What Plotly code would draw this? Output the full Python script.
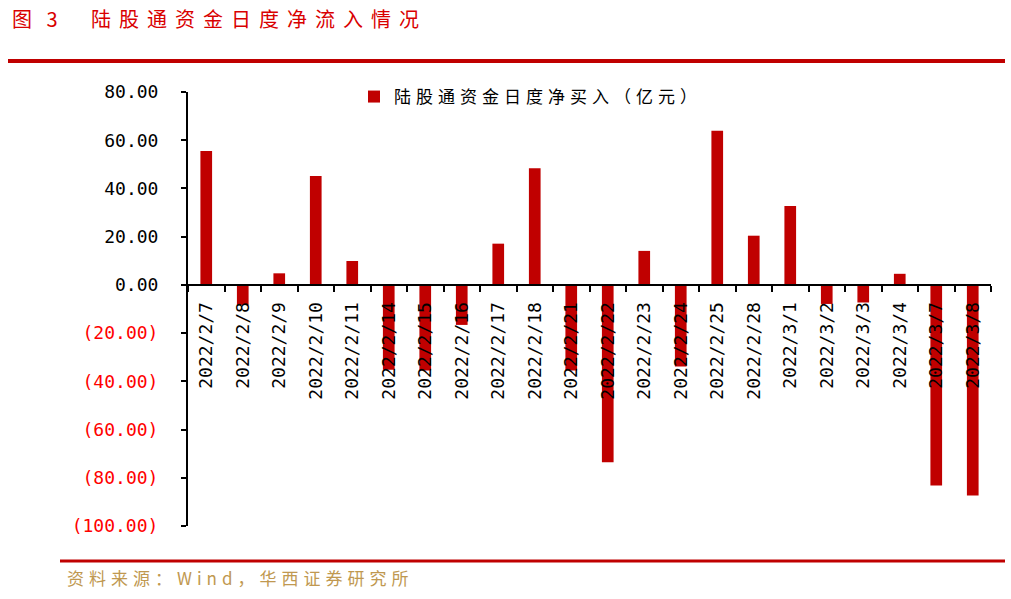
import plotly.graph_objects as go

dates = ["2022/2/7", "2022/2/8", "2022/2/9", "2022/2/10", "2022/2/11", "2022/2/14",
         "2022/2/15", "2022/2/16", "2022/2/17", "2022/2/18", "2022/2/21", "2022/2/22",
         "2022/2/23", "2022/2/24", "2022/2/25", "2022/2/28", "2022/3/1", "2022/3/2",
         "2022/3/3", "2022/3/4", "2022/3/7", "2022/3/8"]
net_buy = [55.5, -8.3, 4.8, 45.2, 9.9, -35.2, -35.5, -16.6, 17.1, 48.4, -35.5, -73.6,
           14.1, -33.8, 63.9, 20.4, 32.7, -7.9, -7.3, 4.6, -83.2, -87.3]

y_tickvals = [80, 60, 40, 20, 0, -20, -40, -60, -80, -100]
y_ticktext = ["80.00", "60.00", "40.00", "20.00", "0.00",
              "<span style='color:#FF0000'>(20.00)</span>",
              "<span style='color:#FF0000'>(40.00)</span>",
              "<span style='color:#FF0000'>(60.00)</span>",
              "<span style='color:#FF0000'>(80.00)</span>",
              "<span style='color:#FF0000'>(100.00)</span>"]

series_name = "陆股通资金日度净买入（亿元）"
title_prefix = "图 3   "
title_main = "陆股通资金日度净流入情况"
source_text = "资料来源：Wind，华西证券研究所"

W, H = 1011, 599
L, R, T, B = 188, 20, 92, 73
pw, ph = W - L - R, H - T - B

def px(x):
    return (x - L) / pw

def py(y):
    return (H - B - y) / ph

def spaced(s, sp):
    return "<span style='letter-spacing:%spx'>%s</span>" % (sp, s)

ymin, ymax = -100, 80

fig = go.Figure()
fig.add_trace(go.Bar(x=dates, y=net_buy, name=spaced(series_name, 5),
                     marker=dict(color="#C00000", line=dict(width=0)),
                     width=0.32, showlegend=True))

fig.update_layout(
    width=W, height=H,
    margin=dict(l=L, r=R, t=T, b=B),
    paper_bgcolor="white", plot_bgcolor="white",
    font=dict(family="Noto Sans CJK SC", color="black"),
    showlegend=True,
    legend=dict(x=px(354), y=py(97), xanchor="left", yanchor="middle",
                orientation="h", bgcolor="rgba(0,0,0,0)",
                font=dict(family="Noto Sans CJK SC", size=17, color="black")),
    xaxis=dict(
        type="category", anchor="free", position=(0 - ymin) / (ymax - ymin),
        showline=True, linecolor="black", linewidth=2,
        ticks="outside", tickson="boundaries", ticklen=6, tickwidth=2, tickcolor="black",
        tickangle=-90, showgrid=False, zeroline=False, ticklabelstandoff=9,
        tickfont=dict(family="DejaVu Sans Mono", size=18, color="black"),
        range=[-0.5, len(dates) - 0.5],
    ),
    yaxis=dict(
        range=[ymin, ymax], tickvals=y_tickvals, ticktext=y_ticktext,
        showline=True, linecolor="black", linewidth=2,
        ticks="outside", ticklen=5, tickwidth=2, tickcolor="black",
        showgrid=False, zeroline=False, ticklabelstandoff=19,
        tickfont=dict(family="DejaVu Sans Mono", size=18, color="black"),
    ),
)

shapes = [
    dict(type="line", xref="paper", yref="paper", x0=px(8), x1=px(1005), y0=py(61), y1=py(61),
         line=dict(color="#C00000", width=4)),
    dict(type="line", xref="paper", yref="paper", x0=px(60), x1=px(1005), y0=py(561), y1=py(561),
         line=dict(color="#C00000", width=3)),
]
fig.update_layout(shapes=shapes)

fig.add_annotation(x=px(10), y=py(19), xref="paper", yref="paper",
                   text=spaced(title_prefix, 5) + spaced(title_main, 8),
                   showarrow=False, xanchor="left", yanchor="middle",
                   font=dict(family="Noto Sans CJK SC", size=20, color="#D90000"))
fig.add_annotation(x=px(65), y=py(577), xref="paper", yref="paper", text=spaced(source_text, 5),
                   showarrow=False, xanchor="left", yanchor="middle",
                   font=dict(family="Noto Sans CJK SC", size=17, color="#C09850"))

fig.write_html("out.html")
